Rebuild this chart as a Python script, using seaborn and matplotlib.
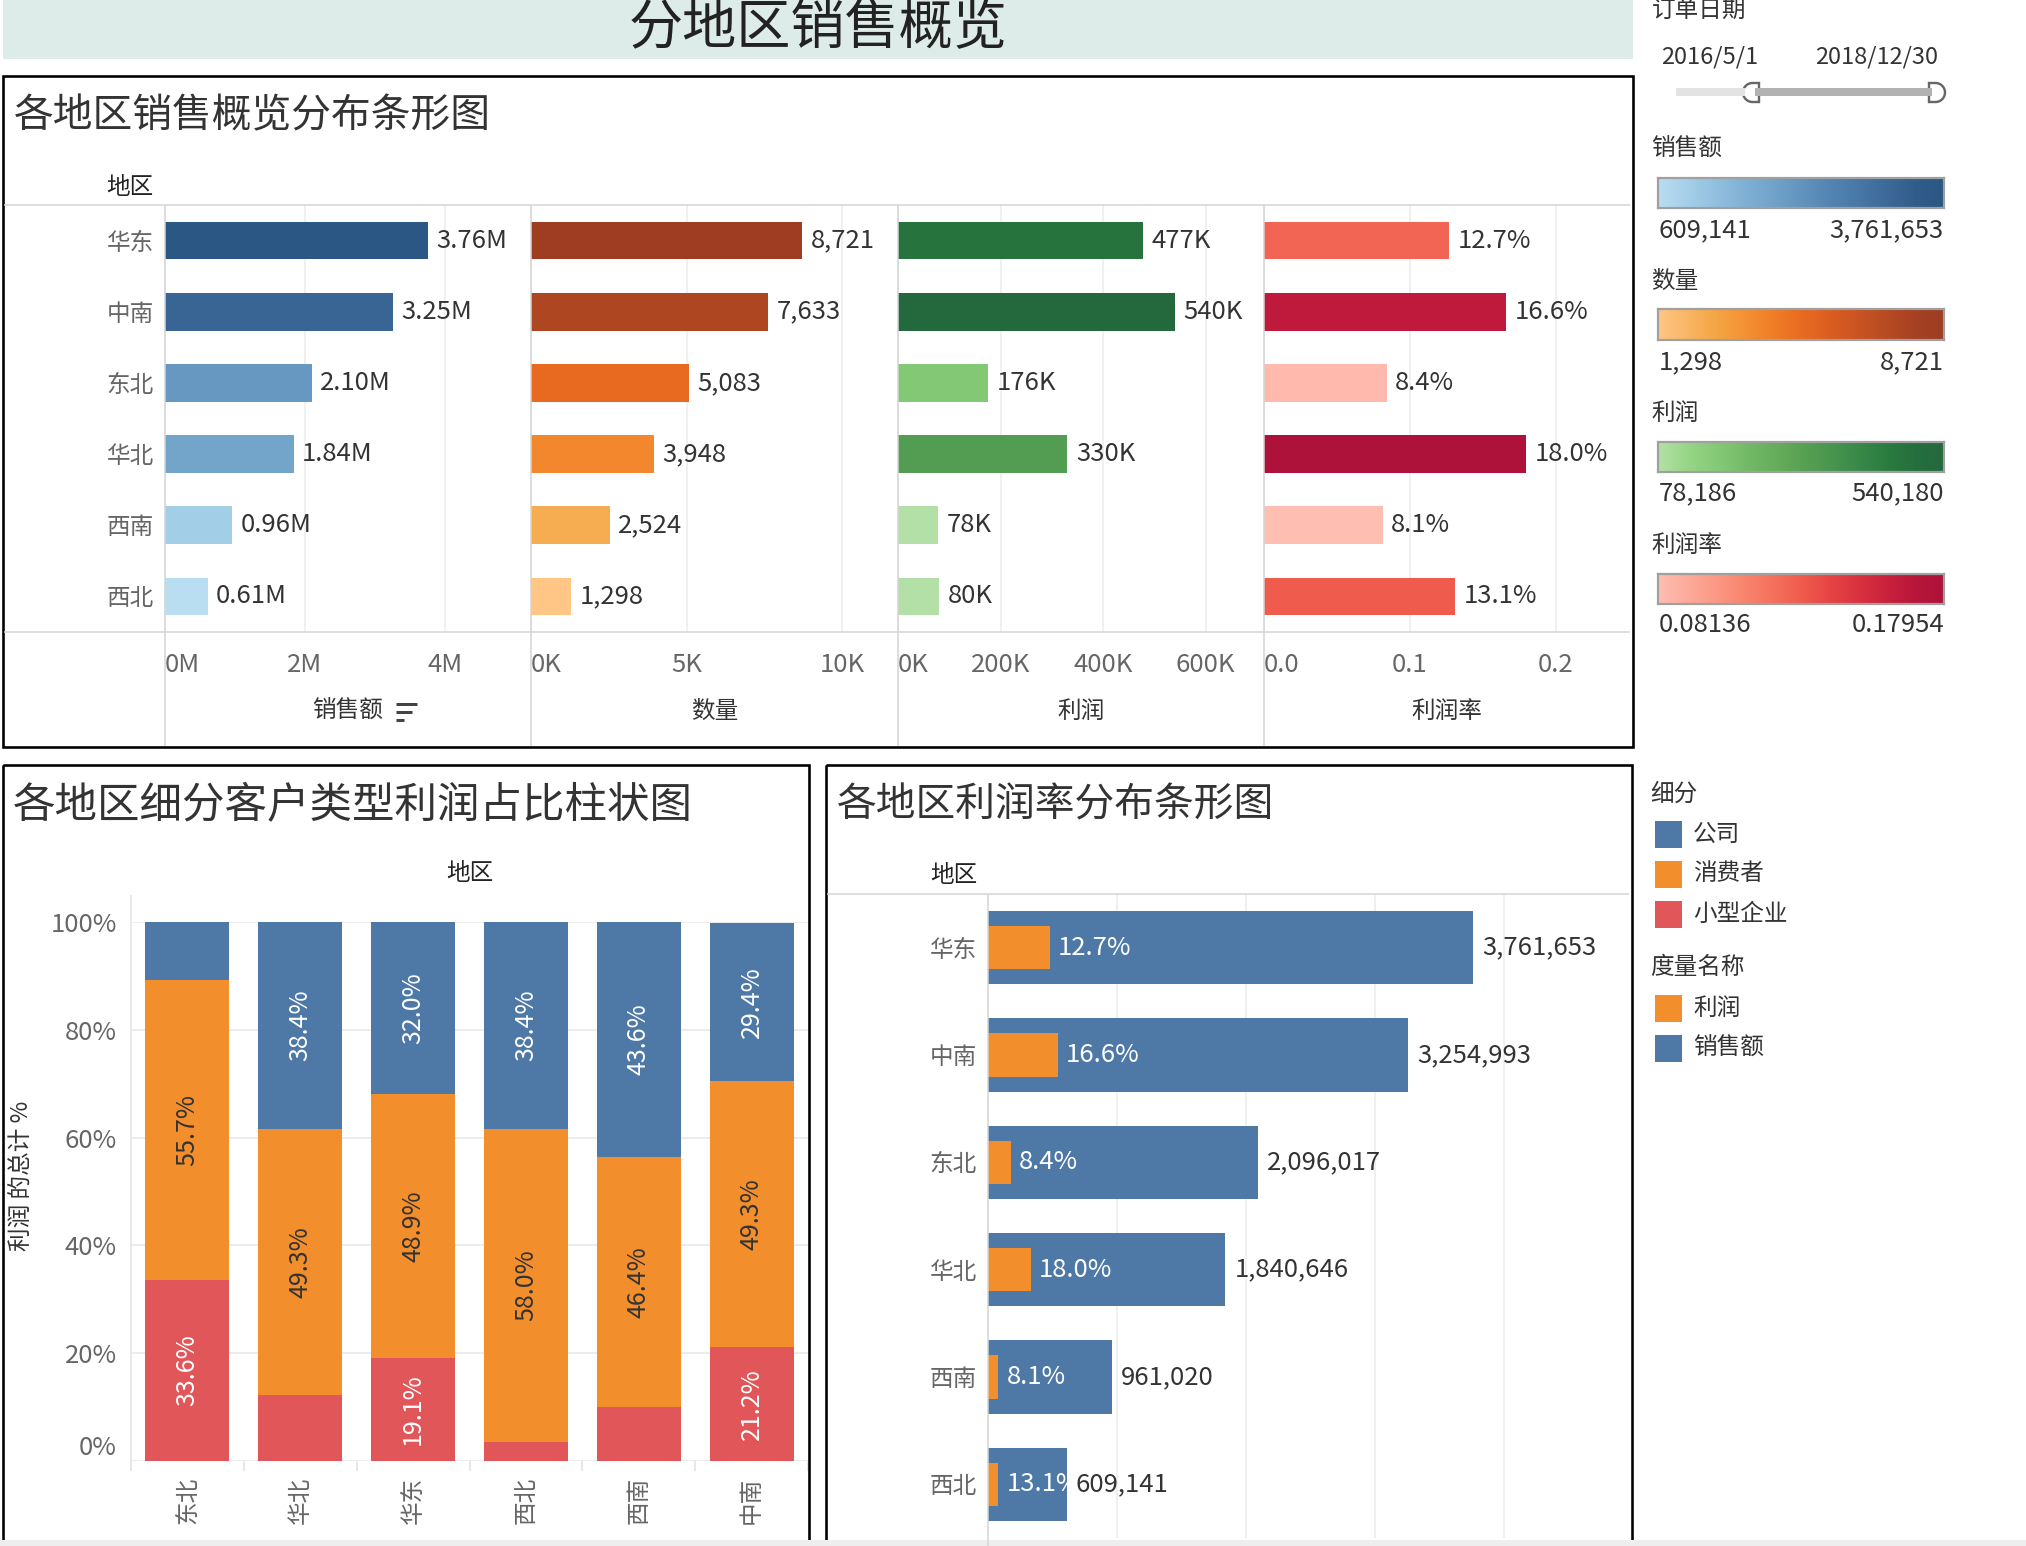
import numpy as np
import pandas as pd
import matplotlib
matplotlib.use("Agg")
import matplotlib.pyplot as plt
import seaborn as sns
from matplotlib.colors import LinearSegmentedColormap, Normalize
from matplotlib.patches import Rectangle, PathPatch
from matplotlib.path import Path
from matplotlib.transforms import offset_copy

sns.set_theme(style="white")
plt.rcParams["font.family"] = ["Noto Sans CJK SC", "DejaVu Sans"]
plt.rcParams["axes.unicode_minus"] = False

# ---------------- data ----------------
regions = ["华东", "中南", "东北", "华北", "西南", "西北"]
sales = [3761653, 3254993, 2096017, 1840646, 961020, 609141]
quantity = [8721, 7633, 5083, 3948, 2524, 1298]
profit = [477300, 540180, 176100, 330470, 78186, 79800]
profit_rate = [0.1269, 0.16595, 0.0840, 0.17954, 0.08136, 0.1310]
sales_labels = ["3.76M", "3.25M", "2.10M", "1.84M", "0.96M", "0.61M"]
quantity_labels = ["8,721", "7,633", "5,083", "3,948", "2,524", "1,298"]
profit_labels = ["477K", "540K", "176K", "330K", "78K", "80K"]
rate_labels = ["12.7%", "16.6%", "8.4%", "18.0%", "8.1%", "13.1%"]
sales_full_labels = ["3,761,653", "3,254,993", "2,096,017", "1,840,646", "961,020", "609,141"]

sales_ticks = [0, 2e6, 4e6]
sales_tick_labels = ["0M", "2M", "4M"]
quantity_ticks = [0, 5000, 10000]
quantity_tick_labels = ["0K", "5K", "10K"]
profit_ticks = [0, 200000, 400000, 600000]
profit_tick_labels = ["0K", "200K", "400K", "600K"]
rate_ticks = [0, 0.1, 0.2]
rate_tick_labels = ["0.0", "0.1", "0.2"]

seg_regions = ["东北", "华北", "华东", "西北", "西南", "中南"]
seg_company = [10.7, 38.4, 32.0, 38.4, 43.6, 29.4]
seg_consumer = [55.7, 49.3, 48.9, 58.0, 46.4, 49.3]
seg_small = [33.6, 12.3, 19.1, 3.6, 10.0, 21.2]
segments = ["公司", "消费者", "小型企业"]
measure_names = ["利润", "销售额"]
pct_ticks = [0, 20, 40, 60, 80, 100]
pct_tick_labels = ["0%", "20%", "40%", "60%", "80%", "100%"]

date_start, date_end = "2016/5/1", "2018/12/30"

# ---------------- colours ----------------
BLUE_SEQ = ["#b9ddf1", "#a5cfe9", "#92c0df", "#80b0d5", "#72a3c9", "#6394be",
            "#5485b2", "#4878a6", "#3d6a98", "#305d8a", "#2a5783"]
ORANGE_SEQ = ["#ffc685", "#f9b665", "#f5a645", "#f49234", "#f07e27", "#e96b20",
              "#db5e20", "#ca5422", "#b84b23", "#a64122", "#9e3d22"]
GREEN_SEQ = ["#b3e0a6", "#98d687", "#85ca77", "#75bc69", "#67af5c", "#59a253",
             "#49964f", "#398949", "#2b7c40", "#256f3d", "#24693d"]
RED_SEQ = ["#ffbeb2", "#fdab9b", "#fb9984", "#f9856e", "#f5715d", "#f05c4d",
           "#e74545", "#da323f", "#ca223c", "#b8163a", "#ae123a"]
cm_blue = LinearSegmentedColormap.from_list("tb_blue", BLUE_SEQ)
cm_orange = LinearSegmentedColormap.from_list("tb_orange", ORANGE_SEQ)
cm_green = LinearSegmentedColormap.from_list("tb_green", GREEN_SEQ)
cm_red = LinearSegmentedColormap.from_list("tb_red", RED_SEQ)

T_BLUE, T_ORANGE, T_RED = "#4e79a7", "#f28e2b", "#e15759"
TXT = "#333333"
GREY_TXT = "#666666"
LINE = "#d4d4d4"
GRID = "#ececec"
NUM = 18.5

W, H, DPI = 2026, 1546, 100
fig = plt.figure(figsize=(W / DPI, H / DPI), dpi=DPI)
fig.patch.set_facecolor("white")


def px_axes(x0, y0, x1, y1, **kw):
    return fig.add_axes([x0 / W, 1 - y1 / H, (x1 - x0) / W, (y1 - y0) / H], **kw)


def px(v):
    return v * 0.72


ov = px_axes(0, 0, W, H, zorder=20)
ov.set_xlim(0, W)
ov.set_ylim(H, 0)
ov.axis("off")

# ---------------- header banner ----------------
ov.add_patch(Rectangle((3, 0), 1630, 59, color="#ddece8", lw=0))
ov.text(818, 29, "分地区销售概览", fontsize=39, ha="center", va="center", color="#222222")

# ---------------- top panel ----------------
ov.add_patch(Rectangle((3, 76), 1630, 671, fill=False, ec="black", lw=px(2.6)))
ov.text(14, 116, "各地区销售概览分布条形图", fontsize=28.6, ha="left", va="center", color=TXT)
ov.text(106, 187, "地区", fontsize=17, ha="left", va="center", color="#222222")
ov.hlines([205, 632], 4, 1630, colors=LINE, lw=px(1.5))
ov.vlines([165, 531, 898, 1264], 205, 746, colors=LINE, lw=px(1.5))

df_top = pd.DataFrame({"地区": regions, "销售额": sales, "数量": quantity,
                       "利润": profit, "利润率": profit_rate})
specs = [
    ("销售额", 165, 531, 5.233e6, sales_ticks, sales_tick_labels, sales_labels, cm_blue),
    ("数量", 531, 898, 11.80e3, quantity_ticks, quantity_tick_labels, quantity_labels, cm_orange),
    ("利润", 898, 1264, 714e3, profit_ticks, profit_tick_labels, profit_labels, cm_green),
    ("利润率", 1264, 1630, 0.2507, rate_ticks, rate_tick_labels, rate_labels, cm_red),
]
for k, (key, x0, x1, xmax, ticks, tlabels, vlabels, cmap) in enumerate(specs):
    ax = px_axes(x0, 205, x1, 632)
    vals = df_top[key].to_numpy(dtype=float)
    norm = Normalize(vals.min(), vals.max())
    colors = [cmap(norm(v)) for v in vals]
    sns.barplot(data=df_top, x=key, y="地区", hue="地区", order=regions, hue_order=regions,
                palette=colors, legend=False, width=0.53, saturation=1, errorbar=None,
                orient="h", linewidth=0, ax=ax)
    ax.set_xlim(0, xmax)
    ax.set_ylim(5.5, -0.5)
    ax.set_xlabel("")
    ax.set_ylabel("")
    sns.despine(ax=ax, left=True, bottom=True)
    ax.set_xticks(ticks, tlabels)
    ax.grid(axis="x", color=GRID, lw=px(1.5))
    ax.grid(axis="y", visible=False)
    ax.set_axisbelow(True)
    ax.tick_params(axis="x", length=0, pad=14.5, labelsize=NUM, labelcolor=GREY_TXT)
    ax.get_xticklabels()[0].set_ha("left")
    if k == 0:
        ax.tick_params(axis="y", length=0, pad=8, labelsize=17, labelcolor=GREY_TXT)
    else:
        ax.tick_params(axis="y", length=0, labelleft=False)
    ax.patch.set_alpha(0)
    tr = offset_copy(ax.transData, fig=fig, x=8.5, y=0, units="dots")
    for i, (v, lab) in enumerate(zip(vals, vlabels)):
        ax.text(v, i, lab, transform=tr, ha="left", va="center", fontsize=NUM, color=TXT)
    ov.text((x0 + x1) / 2, 711, key, fontsize=17, ha="center", va="center", color=TXT)

# sort icon beside 销售额
ov.hlines([703.5, 712, 719.5], 396, [417, 412, 404], colors="#444444", lw=px(3))

# ---------------- bottom-left panel: stacked columns ----------------
ov.add_patch(Rectangle((3, 765), 806, 820, fill=False, ec="black", lw=px(2.6)))
ov.text(13, 805, "各地区细分客户类型利润占比柱状图", fontsize=30.6, ha="left", va="center", color=TXT)
ov.text(470, 873, "地区", fontsize=17, ha="center", va="center", color="#222222")
ov.text(22, 1176, "利润 的总计 %", fontsize=17, rotation=90, ha="center", va="center", color=TXT)
ov.vlines([131], 895, 1461, colors="#e4e4e4", lw=px(1.5))

axb = px_axes(131, 922, 808, 1461)
xs = np.arange(len(seg_regions))
small = np.array(seg_small)
cons = np.array(seg_consumer)
comp = np.array(seg_company)
axb.bar(xs, small, width=0.745, color=T_RED, lw=0)
axb.bar(xs, cons, bottom=small, width=0.745, color=T_ORANGE, lw=0)
axb.bar(xs, comp, bottom=small + cons, width=0.745, color=T_BLUE, lw=0)
axb.set_xlim(-0.5, 5.5)
axb.set_ylim(0, 100)
sns.despine(ax=axb, left=True, bottom=True)
axb.set_yticks(pct_ticks, pct_tick_labels)
axb.set_xticks(xs, seg_regions, rotation=90)
axb.grid(axis="y", color=GRID, lw=px(2))
axb.grid(axis="x", visible=False)
axb.set_axisbelow(True)
axb.tick_params(axis="y", length=0, pad=10, labelsize=NUM, labelcolor=GREY_TXT)
axb.tick_params(axis="x", length=0, pad=11, labelsize=17, labelcolor=GREY_TXT)
axb.get_yticklabels()[0].set_va("bottom")
axb.vlines(np.arange(7) - 0.5, -1.8, 0, colors="#e0e0e0", lw=px(1.5), clip_on=False)
axb.patch.set_alpha(0)
for i in range(len(seg_regions)):
    for val, base, col in [(small[i], 0, "white"), (cons[i], small[i], TXT),
                           (comp[i], small[i] + cons[i], "white")]:
        if val >= 15:
            axb.text(i, base + val / 2, f"{val:.1f}%", rotation=90, ha="center", va="center",
                     fontsize=18, color=col)

# ---------------- bottom-right panel ----------------
ov.add_patch(Rectangle((826, 765), 806, 820, fill=False, ec="black", lw=px(2.6)))
ov.text(837, 805, "各地区利润率分布条形图", fontsize=28.6, ha="left", va="center", color=TXT)
ov.text(930, 875, "地区", fontsize=17, ha="left", va="center", color="#222222")
ov.hlines([894], 827, 1629, colors=LINE, lw=px(1.5))
ov.vlines([988], 894, 1546, colors=LINE, lw=px(1.5))

axr = px_axes(988, 894, 1629, 1538)
df_r = pd.DataFrame({"地区": regions, "销售额": sales, "利润": profit})
sns.barplot(data=df_r, x="销售额", y="地区", order=regions, color=T_BLUE, width=0.685,
            saturation=1, errorbar=None, orient="h", linewidth=0, ax=axr)
sns.barplot(data=df_r, x="利润", y="地区", order=regions, color=T_ORANGE, width=0.405,
            saturation=1, errorbar=None, orient="h", linewidth=0, ax=axr)
axr.set_xlim(0, 4.97e6)
axr.set_ylim(5.5, -0.5)
axr.set_xlabel("")
axr.set_ylabel("")
sns.despine(ax=axr, left=True, bottom=True)
axr.set_xticks([1e6, 2e6, 3e6, 4e6])
axr.grid(axis="x", color=GRID, lw=px(1.5))
axr.grid(axis="y", visible=False)
axr.set_axisbelow(True)
axr.tick_params(axis="x", length=0, labelbottom=False)
axr.tick_params(axis="y", length=0, pad=8, labelsize=17, labelcolor=GREY_TXT)
axr.patch.set_alpha(0)
blue_bars = axr.patches[:len(regions)]
tr9 = offset_copy(axr.transData, fig=fig, x=9, y=0, units="dots")
tr8 = offset_copy(axr.transData, fig=fig, x=8.5, y=0, units="dots")
for i in range(len(regions)):
    axr.text(sales[i], i, sales_full_labels[i], transform=tr9, ha="left", va="center",
             fontsize=NUM, color=TXT)
    t = axr.text(profit[i], i, rate_labels[i], transform=tr8, ha="left", va="center",
                 fontsize=NUM, color="white", clip_on=True)
    t.set_clip_path(blue_bars[i])

# bottom strip
ov.add_patch(Rectangle((0, 1540), W, 8, color="#eeeeee", lw=0))

# ---------------- right-side legends ----------------
ov.text(1652, 10, "订单日期", fontsize=17, ha="left", va="center", color=TXT)
ov.text(1661, 57, date_start, fontsize=17, ha="left", va="center", color=TXT)
ov.text(1938, 57, date_end, fontsize=17, ha="right", va="center", color=TXT)
ov.hlines(92, 1676, 1745, colors="#e3e3e3", lw=px(8))
ov.hlines(92, 1755, 1932, colors="#b2b2b2", lw=px(8))


def handle_path(x_flat, x_round, yc, half_h):
    # D-shaped slider handle: flat side at x_flat, rounded side towards x_round
    r = half_h
    sign = 1 if x_round > x_flat else -1
    cx = x_round - sign * r
    theta = np.linspace(-np.pi / 2, np.pi / 2, 30)
    arc_x = cx + sign * r * np.cos(theta)
    arc_y = yc + r * np.sin(theta)
    verts = [(x_flat, yc - r)] + list(zip(arc_x, arc_y)) + [(x_flat, yc + r), (x_flat, yc - r)]
    codes = [Path.MOVETO] + [Path.LINETO] * (len(verts) - 2) + [Path.CLOSEPOLY]
    return Path(verts, codes)


ov.add_patch(PathPatch(handle_path(1759, 1743, 92.5, 9.5), fc="white", ec="#666666", lw=px(2.4)))
ov.add_patch(PathPatch(handle_path(1929, 1945, 92.5, 9.5), fc="white", ec="#666666", lw=px(2.4)))

cbars = [
    ("销售额", 149.6, 177.7, 207.6, 230, cm_blue, sales_full_labels[-1], sales_full_labels[0]),
    ("数量", 281, 309, 340, 362, cm_orange, "1,298", "8,721"),
    ("利润", 413, 442, 472, 493, cm_green, "78,186", "540,180"),
    ("利润率", 545.5, 574, 604, 625, cm_red, "0.08136", "0.17954"),
]
grad = np.linspace(0, 1, 256)[None, :]
for title, ty, y0, y1, ly, cmap, lo, hi in cbars:
    ov.text(1651, ty, title, fontsize=17, ha="left", va="center", color=TXT)
    cax = px_axes(1658, y0, 1944, y1, zorder=15)
    cax.imshow(grad, aspect="auto", cmap=cmap, extent=(0, 1, 0, 1))
    cax.set_xticks([])
    cax.set_yticks([])
    for sp in cax.spines.values():
        sp.set_color("#a0a0a0")
        sp.set_linewidth(px(2.2))
    ov.text(1659, ly, lo, fontsize=NUM, ha="left", va="center", color=TXT)
    ov.text(1944, ly, hi, fontsize=NUM, ha="right", va="center", color=TXT)

ov.text(1650, 794, "细分", fontsize=17, ha="left", va="center", color=TXT)
for lab, col, cy in zip(segments, [T_BLUE, T_ORANGE, T_RED], [834, 874, 914]):
    ov.add_patch(Rectangle((1655, cy - 13.5), 27, 27, color=col, lw=0))
    ov.text(1693, cy, lab, fontsize=17, ha="left", va="center", color=TXT)
ov.text(1650, 967, "度量名称", fontsize=17, ha="left", va="center", color=TXT)
for lab, col, cy in zip(measure_names, [T_ORANGE, T_BLUE], [1008, 1048]):
    ov.add_patch(Rectangle((1655, cy - 13.5), 27, 27, color=col, lw=0))
    ov.text(1693, cy, lab, fontsize=17, ha="left", va="center", color=TXT)

fig.savefig("out.png", dpi=DPI, facecolor="white")
